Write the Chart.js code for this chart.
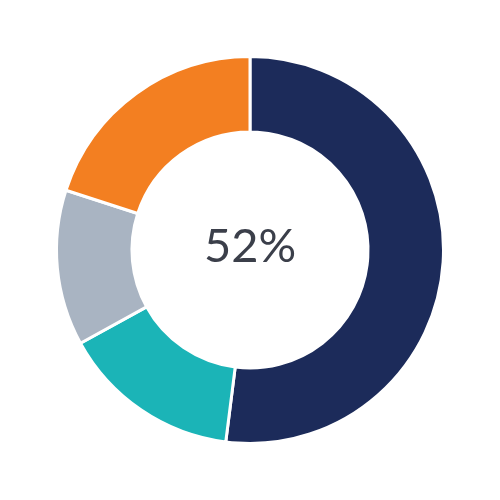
<!DOCTYPE html>
<html>
<head>
<meta charset="utf-8">
<script src="https://cdn.jsdelivr.net/npm/chart.js@4"></script>
<style>
  html, body { margin:0; padding:0; background:#fff; }
  #wrap { width:500px; height:500px; }
</style>
</head>
<body>
<div id="wrap"><canvas id="donut"></canvas></div>
<script>
// ─── Data ────────────────────────────────────────────────────────────────────
const labels = ['Navy', 'Teal', 'Gray', 'Orange'];
const values = [52, 15, 13, 20];
const colors = ['#1c2b5a', '#1bb4b7', '#a9b4c2', '#f37f21'];
const centerLabel = '52%';

// draws the big percentage in the hole
const centerText = {
  id: 'centerText',
  afterDraw(chart) {
    const { ctx } = chart;
    const arc = chart.getDatasetMeta(0).data[0];
    ctx.save();
    ctx.font = '400 47px Lato, "Open Sans", sans-serif';
    ctx.fillStyle = '#3b3f4a';
    ctx.textAlign = 'center';
    ctx.textBaseline = 'middle';
    ctx.fillText(centerLabel, arc.x, arc.y - 3);
    ctx.restore();
  }
};

new Chart(document.getElementById('donut'), {
  type: 'doughnut',
  data: {
    labels,
    datasets: [{ data: values, backgroundColor: colors, borderColor: '#fff', borderWidth: 3, hoverOffset: 0 }]
  },
  options: {
    responsive: true,
    maintainAspectRatio: false,
    animation: false,
    cutout: '61%',
    layout: { padding: 55 },
    plugins: { legend: { display: false }, tooltip: { enabled: false } }
  },
  plugins: [centerText]
});
</script>
</body>
</html>
